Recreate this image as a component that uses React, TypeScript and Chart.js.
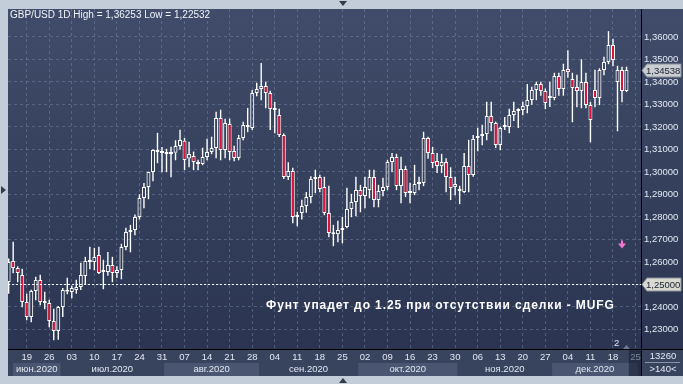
import React, { useEffect, useRef } from 'react';
import { Chart, registerables } from 'chart.js';

Chart.register(...registerables);

// ---------- data (GBP/USD daily, 15 Jun 2020 .. 23 Dec 2020) ----------
const OPEN = [
  1.2511, 1.2604, 1.2573, 1.2542, 1.2422,
  1.2356, 1.2471, 1.2520, 1.2425, 1.2418,
  1.2338, 1.2293, 1.2400, 1.2476, 1.2467,
  1.2476, 1.2489, 1.2538, 1.2600, 1.2600,
  1.2631, 1.2555, 1.2555, 1.2587, 1.2551,
  1.2564, 1.2667, 1.2733, 1.2742, 1.2800,
  1.2884, 1.2933, 1.3000, 1.3098, 1.3089,
  1.3089, 1.3080, 1.3085, 1.3115, 1.3139,
  1.3060, 1.3071, 1.3044, 1.3036, 1.3067,
  1.3089, 1.3107, 1.3240, 1.3098, 1.3213,
  1.3093, 1.3062, 1.3151, 1.3206, 1.3196,
  1.3351, 1.3369, 1.3382, 1.3351, 1.3280,
  1.3253, 1.3164, 1.2978, 1.3004, 1.2800,
  1.2818, 1.2849, 1.2889, 1.2978, 1.2978,
  1.2933, 1.2818, 1.2730, 1.2723, 1.2742,
  1.2756, 1.2836, 1.2867, 1.2920, 1.2893,
  1.2920, 1.2978, 1.2876, 1.2916, 1.2933,
  1.3044, 1.3067, 1.2938, 1.3013, 1.2907,
  1.2907, 1.2947, 1.2951, 1.3151, 1.3084,
  1.3049, 1.3027, 1.3044, 1.2978, 1.2933,
  1.2924, 1.2911, 1.3027, 1.2987, 1.3151,
  1.3160, 1.3169, 1.3249, 1.3218, 1.3120,
  1.3209, 1.3200, 1.3253, 1.3271, 1.3276,
  1.3293, 1.3320, 1.3364, 1.3391, 1.3360,
  1.3338, 1.3329, 1.3427, 1.3369, 1.3458,
  1.3413, 1.3378, 1.3360, 1.3400, 1.3298,
  1.3364, 1.3329, 1.3453, 1.3489, 1.3564,
  1.3400, 1.3453, 1.3360,
];
const HIGH = [
  1.2615, 1.2689, 1.2580, 1.2569, 1.2458,
  1.2476, 1.2533, 1.2542, 1.2467, 1.2431,
  1.2391, 1.2404, 1.2484, 1.2529, 1.2493,
  1.2520, 1.2596, 1.2622, 1.2667, 1.2662,
  1.2667, 1.2609, 1.2644, 1.2622, 1.2580,
  1.2680, 1.2751, 1.2764, 1.2810, 1.2900,
  1.2950, 1.3000, 1.3100, 1.3173, 1.3110,
  1.3102, 1.3111, 1.3140, 1.3187, 1.3150,
  1.3133, 1.3090, 1.3053, 1.3107, 1.3147,
  1.3156, 1.3267, 1.3276, 1.3236, 1.3236,
  1.3116, 1.3164, 1.3222, 1.3284, 1.3364,
  1.3396, 1.3484, 1.3400, 1.3360, 1.3310,
  1.3280, 1.3170, 1.3042, 1.3018, 1.2822,
  1.2876, 1.2910, 1.2980, 1.3009, 1.2987,
  1.2978, 1.2938, 1.2764, 1.2782, 1.2800,
  1.2929, 1.2902, 1.2978, 1.2942, 1.2978,
  1.3009, 1.3009, 1.2942, 1.2973, 1.3053,
  1.3084, 1.3080, 1.3067, 1.3027, 1.2951,
  1.3031, 1.2978, 1.3178, 1.3156, 1.3111,
  1.3084, 1.3080, 1.3060, 1.3020, 1.2978,
  1.2938, 1.3084, 1.3142, 1.3164, 1.3196,
  1.3209, 1.3311, 1.3311, 1.3222, 1.3200,
  1.3244, 1.3280, 1.3311, 1.3282, 1.3311,
  1.3390, 1.3378, 1.3400, 1.3400, 1.3370,
  1.3400, 1.3440, 1.3440, 1.3480, 1.3540,
  1.3440, 1.3431, 1.3500, 1.3440, 1.3310,
  1.3453, 1.3460, 1.3511, 1.3625, 1.3591,
  1.3471, 1.3467, 1.3467,
];
const LOW = [
  1.2460, 1.2551, 1.2511, 1.2400, 1.2342,
  1.2333, 1.2431, 1.2409, 1.2391, 1.2311,
  1.2253, 1.2255, 1.2356, 1.2458, 1.2440,
  1.2460, 1.2476, 1.2502, 1.2569, 1.2564,
  1.2547, 1.2480, 1.2540, 1.2511, 1.2530,
  1.2524, 1.2653, 1.2644, 1.2720, 1.2790,
  1.2840, 1.2880, 1.2960, 1.3040, 1.3000,
  1.3000, 1.2978, 1.3053, 1.3100, 1.3009,
  1.3022, 1.3009, 1.3009, 1.3031, 1.3053,
  1.3080, 1.3062, 1.3053, 1.3062, 1.3053,
  1.3049, 1.3053, 1.3142, 1.3178, 1.3187,
  1.3338, 1.3320, 1.3284, 1.3187, 1.3173,
  1.3156, 1.2970, 1.2965, 1.2773, 1.2760,
  1.2790, 1.2820, 1.2862, 1.2907, 1.2911,
  1.2809, 1.2711, 1.2671, 1.2689, 1.2684,
  1.2751, 1.2800, 1.2804, 1.2822, 1.2840,
  1.2884, 1.2844, 1.2844, 1.2893, 1.2920,
  1.3000, 1.2920, 1.2862, 1.2889, 1.2862,
  1.2898, 1.2920, 1.2938, 1.3060, 1.3018,
  1.2996, 1.2996, 1.2911, 1.2876, 1.2898,
  1.2858, 1.2907, 1.2911, 1.2980, 1.3093,
  1.3120, 1.3142, 1.3182, 1.3107, 1.3098,
  1.3187, 1.3173, 1.3227, 1.3196, 1.3253,
  1.3262, 1.3300, 1.3320, 1.3340, 1.3280,
  1.3290, 1.3320, 1.3340, 1.3340, 1.3420,
  1.3222, 1.3289, 1.3284, 1.3284, 1.3133,
  1.3289, 1.3298, 1.3431, 1.3480, 1.3471,
  1.3182, 1.3311, 1.3356,
];
const CLOSE = [
  1.2600, 1.2573, 1.2551, 1.2422, 1.2356,
  1.2471, 1.2520, 1.2422, 1.2418, 1.2338,
  1.2293, 1.2400, 1.2476, 1.2468, 1.2484,
  1.2489, 1.2542, 1.2604, 1.2609, 1.2622,
  1.2551, 1.2560, 1.2587, 1.2551, 1.2564,
  1.2667, 1.2733, 1.2742, 1.2800, 1.2884,
  1.2933, 1.3000, 1.3098, 1.3089, 1.3084,
  1.3080, 1.3085, 1.3115, 1.3142, 1.3053,
  1.3080, 1.3044, 1.3036, 1.3067, 1.3089,
  1.3107, 1.3240, 1.3098, 1.3218, 1.3089,
  1.3062, 1.3151, 1.3209, 1.3200, 1.3351,
  1.3369, 1.3382, 1.3351, 1.3280, 1.3276,
  1.3164, 1.2978, 1.3004, 1.2800, 1.2804,
  1.2849, 1.2889, 1.2969, 1.2969, 1.2924,
  1.2818, 1.2729, 1.2723, 1.2742, 1.2747,
  1.2836, 1.2867, 1.2920, 1.2893, 1.2933,
  1.2978, 1.2876, 1.2916, 1.2933, 1.3044,
  1.3067, 1.2938, 1.3013, 1.2907, 1.2916,
  1.2947, 1.2951, 1.3151, 1.3084, 1.3040,
  1.3027, 1.3044, 1.2978, 1.2929, 1.2947,
  1.2916, 1.3027, 1.2987, 1.3147, 1.3160,
  1.3169, 1.3249, 1.3218, 1.3120, 1.3196,
  1.3200, 1.3253, 1.3271, 1.3276, 1.3293,
  1.3320, 1.3364, 1.3391, 1.3360, 1.3307,
  1.3329, 1.3427, 1.3369, 1.3453, 1.3444,
  1.3373, 1.3360, 1.3400, 1.3298, 1.3231,
  1.3329, 1.3453, 1.3489, 1.3564, 1.3498,
  1.3453, 1.3360, 1.34538,
];

// Fridays (bar index) and their day labels
const FRIDAY_INDEX = [4, 9, 14, 19, 24, 29, 34, 39, 44, 49, 54, 59, 64, 69, 74, 79, 84, 89, 94, 99, 104, 109, 114, 119, 124, 129, 134, 139];
const DAY_LABELS = ['19', '26', '03', '10', '17', '24', '31', '07', '14', '21', '28', '04', '11', '18', '25', '02', '09', '16', '23', '30', '06', '13', '20', '27', '04', '11', '18', '25'];
const MONTH_LABELS = ['июн.2020', 'июл.2020', 'авг.2020', 'сен.2020', 'окт.2020', 'ноя.2020', 'дек.2020'];
const MONTH_FIRST = [0, 12, 35, 56, 78, 100, 121];
const MONTH_LAST = [11, 34, 55, 77, 99, 120, 139];
const PRICE_TICKS = [1.23, 1.24, 1.25, 1.26, 1.27, 1.28, 1.29, 1.30, 1.31, 1.32, 1.33, 1.34, 1.35, 1.36];

const TITLE = 'GBP/USD 1D High = 1,36253 Low = 1,22532';
const NEWS = 'Фунт упадет до 1.25 при отсутствии сделки - MUFG';
const LEVEL = 1.25;
const LAST_PRICE = 1.34538;
const SIGNAL_INDEX = 136;
const SIGNAL_PRICE = 1.2696;
const FUTURE_FROM = 138;
const BARS_TOTAL = '13260';
const BARS_VISIBLE = '>140<';
const MARK_LABEL = '2';

const X_MIN = -0.146;
const X_MAX = 140.21;
const Y_MIN = 1.22133;
const Y_MAX = 1.37244;

const RED = '#dc143c';
const GRID = 'rgba(125,140,172,0.45)';
const TXT = '#e2e9f4';
const FONT = '"Liberation Sans", Arial, sans-serif';

const fmt = (v: number) => v.toFixed(5).replace('.', ',');

const decor = {
  id: 'decor',
  beforeDraw(chart: any) {
    const { ctx, chartArea: a } = chart;
    const xs = chart.scales.x;
    const W = chart.width;
    const H = chart.height;
    ctx.save();
    ctx.fillStyle = '#c3cdda';
    ctx.fillRect(0, 0, W, H);
    const g = ctx.createLinearGradient(0, a.top, 0, a.bottom);
    g.addColorStop(0, '#404c69');
    g.addColorStop(1, '#2b3551');
    ctx.fillStyle = g;
    ctx.fillRect(a.left, a.top, W - a.left, a.bottom - a.top);
    // bottom axis strip
    ctx.fillStyle = '#38435e';
    ctx.fillRect(a.left, a.bottom, W - a.left, 27);
    // month boxes
    ctx.font = '9.5px ' + FONT;
    ctx.textAlign = 'center';
    ctx.textBaseline = 'middle';
    for (let m = 0; m < MONTH_LABELS.length; m++) {
      let x0 = xs.getPixelForValue(MONTH_FIRST[m] - 0.5);
      let x1 = xs.getPixelForValue(MONTH_LAST[m] + 0.5);
      x0 = Math.max(x0, a.left + 5);
      x1 = Math.min(x1, a.right);
      if (m % 2 === 0) {
        ctx.fillStyle = '#4a5671';
        ctx.fillRect(x0, a.bottom + 14, x1 - x0, 13);
      }
      ctx.fillStyle = TXT;
      ctx.fillText(MONTH_LABELS[m], (x0 + x1) / 2, a.bottom + 20);
    }
    // future zone on the axis
    const fx = xs.getPixelForValue(FUTURE_FROM - 0.5);
    ctx.fillStyle = 'rgba(20,28,44,0.55)';
    ctx.fillRect(fx, a.bottom, a.right - fx, 27);
    ctx.restore();
  },
  afterDraw(chart: any) {
    const { ctx, chartArea: a } = chart;
    const xs = chart.scales.x;
    const ys = chart.scales.y;
    const W = chart.width;
    ctx.save();
    // separators
    ctx.strokeStyle = '#000';
    ctx.lineWidth = 1;
    ctx.beginPath();
    ctx.moveTo(a.left, Math.round(a.bottom) + 0.5);
    ctx.lineTo(W, Math.round(a.bottom) + 0.5);
    ctx.moveTo(Math.round(a.right) + 0.5, a.top);
    ctx.lineTo(Math.round(a.right) + 0.5, a.bottom + 27);
    ctx.stroke();
    // level line
    const ly = Math.round(ys.getPixelForValue(LEVEL)) + 0.5;
    ctx.strokeStyle = 'rgba(255,255,255,0.95)';
    ctx.setLineDash([2, 2]);
    ctx.beginPath();
    ctx.moveTo(a.left, ly);
    ctx.lineTo(a.right, ly);
    ctx.stroke();
    ctx.setLineDash([]);
    // title
    ctx.fillStyle = '#eef3fa';
    ctx.font = '10px ' + FONT;
    ctx.textAlign = 'left';
    ctx.textBaseline = 'middle';
    ctx.fillText(TITLE, a.left + 2, a.top + 6);
    // news text
    ctx.font = 'bold 12px ' + FONT;
    const w = ctx.measureText(NEWS).width;
    const sp = Math.max(0, (348 - w) / (NEWS.length - 1));
    (ctx as any).letterSpacing = sp.toFixed(2) + 'px';
    ctx.fillStyle = '#ffffff';
    ctx.fillText(NEWS, 266, 305.5);
    (ctx as any).letterSpacing = '0px';
    // signal arrow
    const sx = xs.getPixelForValue(SIGNAL_INDEX);
    const sy = ys.getPixelForValue(SIGNAL_PRICE);
    ctx.fillStyle = '#f07ad2';
    ctx.fillRect(sx - 1, sy, 2, 5);
    ctx.beginPath();
    ctx.moveTo(sx - 4, sy + 3);
    ctx.lineTo(sx + 4, sy + 3);
    ctx.lineTo(sx, sy + 8);
    ctx.closePath();
    ctx.fill();
    // price boxes
    const box = (v: number, fill: string) => {
      const py = Math.round(ys.getPixelForValue(v)) + 0.5;
      const x0 = Math.round(a.right) + 1;
      ctx.beginPath();
      ctx.moveTo(x0, py);
      ctx.lineTo(x0 + 5, py - 6.5);
      ctx.lineTo(W - 2, py - 6.5);
      ctx.lineTo(W - 2, py + 6.5);
      ctx.lineTo(x0 + 5, py + 6.5);
      ctx.closePath();
      ctx.fillStyle = fill;
      ctx.fill();
      ctx.strokeStyle = '#8b919b';
      ctx.stroke();
      ctx.fillStyle = '#18202f';
      ctx.font = '9.5px ' + FONT;
      ctx.textAlign = 'left';
      ctx.textBaseline = 'middle';
      ctx.fillText(fmt(v), x0 + 4, py + 0.5);
    };
    box(LAST_PRICE, '#c9ccd1');
    box(LEVEL, '#d8d9cf');
    // bars mark
    ctx.fillStyle = TXT;
    ctx.font = '9.5px ' + FONT;
    ctx.textAlign = 'center';
    ctx.fillText(MARK_LABEL, xs.getPixelForValue(134.8), a.bottom - 6);
    ctx.fillStyle = '#6f7a92';
    const tx = xs.getPixelForValue(137);
    ctx.beginPath();
    ctx.moveTo(tx - 3.5, a.bottom);
    ctx.lineTo(tx + 3.5, a.bottom);
    ctx.lineTo(tx, a.bottom - 4);
    ctx.closePath();
    ctx.fill();
    // corner box
    ctx.fillStyle = TXT;
    ctx.fillText(BARS_TOTAL, (a.right + W) / 2 + 1, a.bottom + 7.5);
    ctx.fillText(BARS_VISIBLE, (a.right + W) / 2 + 1, a.bottom + 20);
    ctx.strokeStyle = '#8793aa';
    ctx.beginPath();
    ctx.moveTo(a.right + 4, a.bottom + 13.5);
    ctx.lineTo(W - 3, a.bottom + 13.5);
    ctx.stroke();
    // frame triangles
    ctx.fillStyle = '#343b47';
    ctx.beginPath();
    ctx.moveTo(339, 1); ctx.lineTo(347, 1); ctx.lineTo(343, 6); ctx.closePath();
    ctx.moveTo(1, 186); ctx.lineTo(6, 190); ctx.lineTo(1, 194); ctx.closePath();
    ctx.moveTo(339, 383); ctx.lineTo(347, 383); ctx.lineTo(343, 378); ctx.closePath();
    ctx.fill();
    ctx.restore();
  },
};

export default function App() {
  const ref = useRef<HTMLCanvasElement | null>(null);
  useEffect(() => {
    document.body.style.margin = '0';
    const up = (i: number) => CLOSE[i] >= OPEN[i];
    const bodies = OPEN.map((o, i) => ({ x: i, y: [o, CLOSE[i]] }));
    const upperWicks = OPEN.map((o, i) => ({ x: i, y: [Math.max(o, CLOSE[i]), HIGH[i]] }));
    const lowerWicks = OPEN.map((o, i) => ({ x: i, y: [LOW[i], Math.min(o, CLOSE[i])] }));
    const chart = new Chart(ref.current as HTMLCanvasElement, {
      type: 'bar',
      data: {
        datasets: [
          {
            data: bodies as any,
            order: 0,
            grouped: false,
            barThickness: 4,
            minBarLength: 2,
            borderWidth: 1,
            borderColor: '#ffffff',
            borderSkipped: false,
            inflateAmount: 0,
            backgroundColor: (c: any) => (up(c.dataIndex) ? 'rgba(0,0,0,0)' : RED),
          },
          {
            data: upperWicks as any,
            order: 1,
            grouped: false,
            barThickness: 1,
            backgroundColor: '#ffffff',
            borderWidth: 0,
            inflateAmount: 0.2,
          },
          {
            data: lowerWicks as any,
            order: 1,
            grouped: false,
            barThickness: 1,
            backgroundColor: '#ffffff',
            borderWidth: 0,
            inflateAmount: 0.2,
          },
        ],
      },
      options: {
        responsive: false,
        devicePixelRatio: 1,
        animation: false,
        layout: { padding: { left: 8, top: 9, right: 0, bottom: 0 } },
        plugins: { legend: { display: false }, tooltip: { enabled: false } },
        scales: {
          x: {
            type: 'linear',
            min: X_MIN,
            max: X_MAX,
            offset: false,
            grid: { color: GRID, drawTicks: false, offset: false },
            border: { display: false, dash: [3, 3] },
            afterBuildTicks: (s: any) => {
              s.ticks = FRIDAY_INDEX.map((v) => ({ value: v }));
            },
            afterFit: (s: any) => {
              s.height = 35;
            },
            ticks: {
              autoSkip: false,
              maxRotation: 0,
              minRotation: 0,
              padding: 3,
              color: (c: any) => (c.index === DAY_LABELS.length - 1 ? '#7d89a0' : TXT),
              font: { family: FONT, size: 9.5 },
              callback: (_v: any, i: number) => DAY_LABELS[i] ?? '',
            },
          },
          y: {
            type: 'linear',
            position: 'right',
            min: Y_MIN,
            max: Y_MAX,
            beginAtZero: false,
            grid: { color: GRID, drawTicks: false },
            border: { display: false, dash: [3, 3] },
            afterBuildTicks: (s: any) => {
              s.ticks = PRICE_TICKS.map((v) => ({ value: v }));
            },
            afterFit: (s: any) => {
              s.width = 42;
            },
            ticks: {
              padding: 3,
              color: TXT,
              font: { family: FONT, size: 9.5 },
              callback: (v: any) => fmt(Number(v)),
            },
          },
        },
      } as any,
      plugins: [decor],
    });
    return () => chart.destroy();
  }, []);
  return (
    <div style={{ position: 'fixed', left: 0, top: 0, width: 683, height: 384 }}>
      <canvas ref={ref} width={683} height={384} style={{ display: 'block', width: 683, height: 384 }} />
    </div>
  );
}
